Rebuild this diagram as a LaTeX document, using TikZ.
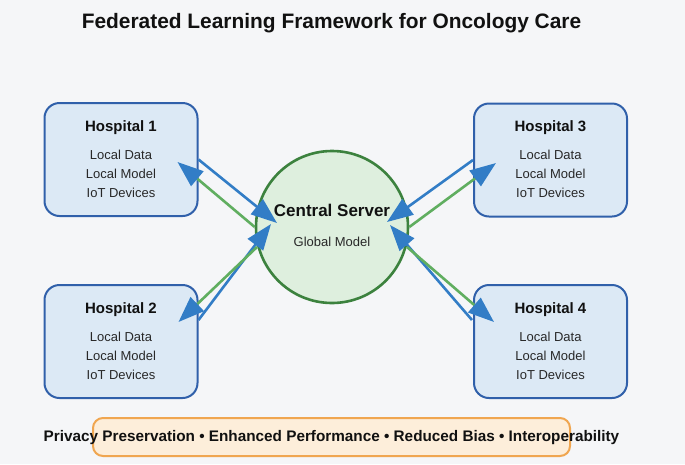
\documentclass[tikz,border=0pt]{standalone}
\usepackage{fontspec}
\setmainfont{Liberation Sans}
\usetikzlibrary{arrows.meta,calc}
\definecolor{bgc}{RGB}{245,246,248}
\definecolor{hfill}{RGB}{220,233,245}
\definecolor{hborder}{RGB}{48,96,170}
\definecolor{sfill}{RGB}{222,239,222}
\definecolor{sborder}{RGB}{60,130,62}
\definecolor{arrblue}{RGB}{50,125,198}
\definecolor{lgreen}{RGB}{96,174,96}
\definecolor{ofill}{RGB}{253,238,218}
\definecolor{oborder}{RGB}{240,166,80}
\definecolor{txtdark}{RGB}{17,17,17}
\definecolor{txtgray}{RGB}{40,40,40}
\begin{document}
\begin{tikzpicture}[x=1pt,y=-1pt,
  hbox/.style={draw=hborder, fill=hfill, line width=2pt, rounded corners=15pt,
    minimum width=153pt, minimum height=113pt, inner sep=0pt},
  htitle/.style={anchor=base, inner sep=0pt, text=txtdark,
    font=\fontsize{15}{18}\selectfont\bfseries},
  hline/.style={anchor=base, inner sep=0pt, text=txtgray,
    font=\fontsize{13}{16}\selectfont},
  server/.style={circle, draw=sborder, fill=sfill, line width=2.6pt,
    minimum size=152pt, inner sep=0pt},
  bluearr/.style={draw=arrblue, line width=2.6pt,
    -{Triangle[length=26pt,width=19pt,color=arrblue]}},
  greenarr/.style={draw=lgreen, line width=2.6pt,
    -{Triangle[length=26pt,width=19pt,color=arrblue]}},
  benefit/.style={draw=oborder, fill=ofill, line width=2pt, rounded corners=10pt,
    minimum width=477pt, minimum height=38pt, inner sep=0pt}
]
\fill[bgc] (0,0) rectangle (685,464);
\useasboundingbox (0,0) rectangle (685,464);

% title
\node[anchor=base, inner sep=0pt, text=txtdark, font=\fontsize{20.9}{24}\selectfont\bfseries]
  (title) at (331.5,28) {Federated Learning Framework for Oncology Care};

% hospitals
\node[hbox] (h1) at (121,159.5) {};
\node[hbox] (h2) at (121,341.5) {};
\node[hbox] (h3) at (550.5,160) {};
\node[hbox] (h4) at (550.5,341.5) {};

% server
\node[server] (srv) at (332,227) {};

% bottom box
\node[benefit] (bb) at (331.5,437) {};

% connectors
\draw[bluearr]  (h1.east) -- ($(srv.center)+(-55,-4)$);
\draw[greenarr] (srv.west) -- ($(h1.east)+(-21,2.5)$);

\draw[bluearr]  ($(h2.east)+(0,-21.5)$) -- ($(srv.center)+(-61,-3)$);
\draw[greenarr] ($(srv.center)+(-75,20)$) -- ($(h2.east)+(-20,-19.5)$);

\draw[bluearr]  (h3.west) -- ($(srv.center)+(55,-5)$);
\draw[greenarr] (srv.east) -- ($(h3.west)+(23,3)$);

\draw[bluearr]  ($(h4.west)+(-1,-21.5)$) -- ($(srv.center)+(58,-2)$);
\draw[greenarr] ($(srv.center)+(75,20)$) -- ($(h4.west)+(21,-19.5)$);

% hospital texts
\foreach \h/\n in {h1/1,h2/2,h3/3,h4/4}{
  \node[htitle] (\h t) at ($(\h.north)+(0,29)$) {Hospital \n};
  \node[hline] (\h a) at ($(\h.north)+(0,57)$) {Local Data};
  \node[hline] (\h b) at ($(\h.north)+(0,76)$) {Local Model};
  \node[hline] (\h c) at ($(\h.north)+(0,95)$) {IoT Devices};
}

% server texts
\node[anchor=base, inner sep=0pt, text=txtdark, font=\fontsize{17}{20}\selectfont\bfseries]
  (srvt) at (332,216.5) {Central Server};
\node[hline] (srvm) at (332,246) {Global Model};

% benefits text
\node[anchor=base, inner sep=0pt, text=txtdark, font=\fontsize{15.3}{18}\selectfont\bfseries]
  (bt) at (331.5,441.7) {Privacy Preservation • Enhanced Performance • Reduced Bias • Interoperability};
\end{tikzpicture}
\end{document}
